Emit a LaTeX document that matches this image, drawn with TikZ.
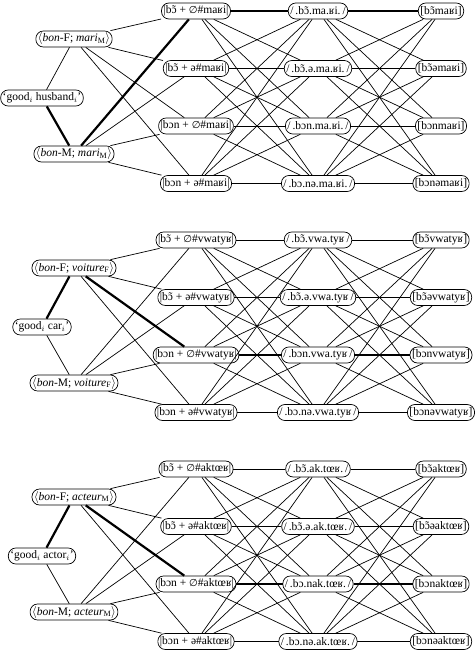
\documentclass[tikz,border=0pt]{standalone}
\usepackage{fontspec}
\setmainfont{Liberation Serif}
\newfontfamily\symfont{DejaVu Sans}
\newcommand{\onas}{\ooalign{ɔ\cr\hidewidth\char"02DC\hidewidth\cr}}
\newcommand{\nul}{{\symfont\fontsize{10}{12}\selectfont ∅}}
\begin{document}
\begin{tikzpicture}[x=1pt, y=-1pt, line width=0.7pt, form node/.style={draw,rounded corners=7.5pt,minimum height=16pt,inner sep=2pt,font=\fontsize{11.5}{13}\selectfont}, best path/.style={line width=2.2pt}]
\useasboundingbox (0,0) rectangle (474,652);
% husband
\begin{scope}[every node/.style={form node}]
\node (h0) at (42,98) {‘good$_i$ husband$_i$’};
\node (hF) at (74,39) {$\langle$\textit{bon}-F; \textit{mari}$_{\mathrm{M}}\rangle$};
\node (hM) at (74,154) {$\langle$\textit{bon}-M; \textit{mari}$_{\mathrm{M}}\rangle$};
\node (hu1) at (196,11) {|b\onas{} + \nul\#maʁi|};
\node (hu2) at (196,68.5) {|b\onas{} + ə\#maʁi|};
\node (hu3) at (196,126) {|bɔn + \nul\#maʁi|};
\node (hu4) at (196,183.5) {|bɔn + ə\#maʁi|};
\node (hs1) at (318,11) {/\,.b\onas.ma.ʁi.\,/};
\node (hs2) at (318,68.5) {/\,.b\onas.ə.ma.ʁi.\,/};
\node (hs3) at (318,126) {/\,.bɔn.ma.ʁi.\,/};
\node (hs4) at (318,183.5) {/\,.bɔ.nə.ma.ʁi.\,/};
\node (hp1) at (441,11) {[b\onas{}maʁi]};
\node (hp2) at (441,68.5) {[b\onas{}əmaʁi]};
\node (hp3) at (441,126) {[bɔnmaʁi]};
\node (hp4) at (441,183.5) {[bɔnəmaʁi]};
\end{scope}
\begin{scope}
\draw (h0) edge (hF);
\draw (hF) edge (hu1) edge (hu2) edge (hu3) edge (hu4);
\draw (hM) edge (hu2) edge (hu3) edge (hu4);
\draw (hu1) edge (hs2) edge (hs3) edge (hs4);
\draw (hu2) edge (hs1) edge (hs2) edge (hs3) edge (hs4);
\draw (hu3) edge (hs1) edge (hs2) edge (hs3) edge (hs4);
\draw (hu4) edge (hs1) edge (hs2) edge (hs3) edge (hs4);
\draw (hs1) edge (hp2) edge (hp3) edge (hp4);
\draw (hs2) edge (hp1) edge (hp2) edge (hp3) edge (hp4);
\draw (hs3) edge (hp1) edge (hp2) edge (hp3) edge (hp4);
\draw (hs4) edge (hp1) edge (hp2) edge (hp3) edge (hp4);
\draw[best path] (h0) edge (hM) (hM) edge (hu1) (hu1) edge (hs1) (hs1) edge (hp1);
\end{scope}
% car
\begin{scope}[every node/.style={form node}]
\node (c0) at (42,327) {‘good$_i$ car$_i$’};
\node (cF) at (74,268) {$\langle$\textit{bon}-F; \textit{voiture}$_{\mathrm{F}}\rangle$};
\node (cM) at (74,383) {$\langle$\textit{bon}-M; \textit{voiture}$_{\mathrm{F}}\rangle$};
\node (cu1) at (196,240) {|b\onas{} + \nul\#vwatyʁ|};
\node (cu2) at (196,297.5) {|b\onas{} + ə\#vwatyʁ|};
\node (cu3) at (196,355) {|bɔn + \nul\#vwatyʁ|};
\node (cu4) at (196,412.5) {|bɔn + ə\#vwatyʁ|};
\node (cs1) at (318,240) {/\,.b\onas.vwa.tyʁ\,/};
\node (cs2) at (318,297.5) {/\,.b\onas.ə.vwa.tyʁ\,/};
\node (cs3) at (318,355) {/\,.bɔn.vwa.tyʁ\,/};
\node (cs4) at (318,412.5) {/\,.bɔ.nə.vwa.tyʁ\,/};
\node (cp1) at (441,240) {[b\onas{}vwatyʁ]};
\node (cp2) at (441,297.5) {[b\onas{}əvwatyʁ]};
\node (cp3) at (441,355) {[bɔnvwatyʁ]};
\node (cp4) at (441,412.5) {[bɔnəvwatyʁ]};
\end{scope}
\begin{scope}
\draw (c0) edge (cM);
\draw (cF) edge (cu1) edge (cu2) edge (cu4);
\draw (cM) edge (cu1) edge (cu2) edge (cu3) edge (cu4);
\draw (cu1) edge (cs1) edge (cs2) edge (cs3) edge (cs4);
\draw (cu2) edge (cs1) edge (cs2) edge (cs3) edge (cs4);
\draw (cu3) edge (cs1) edge (cs2) edge (cs4);
\draw (cu4) edge (cs1) edge (cs2) edge (cs3) edge (cs4);
\draw (cs1) edge (cp1) edge (cp2) edge (cp3) edge (cp4);
\draw (cs2) edge (cp1) edge (cp2) edge (cp3) edge (cp4);
\draw (cs3) edge (cp1) edge (cp2) edge (cp4);
\draw (cs4) edge (cp1) edge (cp2) edge (cp3) edge (cp4);
\draw[best path] (c0) edge (cF) (cF) edge (cu3) (cu3) edge (cs3) (cs3) edge (cp3);
\end{scope}
% actor
\begin{scope}[every node/.style={form node}]
\node (a0) at (42,556) {‘good$_i$ actor$_i$’};
\node (aF) at (74,497) {$\langle$\textit{bon}-F; \textit{acteur}$_{\mathrm{M}}\rangle$};
\node (aM) at (74,612) {$\langle$\textit{bon}-M; \textit{acteur}$_{\mathrm{M}}\rangle$};
\node (au1) at (196,469) {|b\onas{} + \nul\#aktœʁ|};
\node (au2) at (196,526.5) {|b\onas{} + ə\#aktœʁ|};
\node (au3) at (196,584) {|bɔn + \nul\#aktœʁ|};
\node (au4) at (196,641.5) {|bɔn + ə\#aktœʁ|};
\node (as1) at (318,469) {/\,.b\onas.ak.tœʁ.\,/};
\node (as2) at (318,526.5) {/\,.b\onas.ə.ak.tœʁ.\,/};
\node (as3) at (318,584) {/\,.bɔ.nak.tœʁ.\,/};
\node (as4) at (318,641.5) {/\,.bɔ.nə.ak.tœʁ.\,/};
\node (ap1) at (441,469) {[b\onas{}aktœʁ]};
\node (ap2) at (441,526.5) {[b\onas{}əaktœʁ]};
\node (ap3) at (441,584) {[bɔnaktœʁ]};
\node (ap4) at (441,641.5) {[bɔnəaktœʁ]};
\end{scope}
\begin{scope}
\draw (a0) edge (aM);
\draw (aF) edge (au1) edge (au2) edge (au4);
\draw (aM) edge (au1) edge (au2) edge (au3) edge (au4);
\draw (au1) edge (as1) edge (as2) edge (as3) edge (as4);
\draw (au2) edge (as1) edge (as2) edge (as3) edge (as4);
\draw (au3) edge (as1) edge (as2) edge (as4);
\draw (au4) edge (as1) edge (as2) edge (as3) edge (as4);
\draw (as1) edge (ap1) edge (ap2) edge (ap3) edge (ap4);
\draw (as2) edge (ap1) edge (ap2) edge (ap3) edge (ap4);
\draw (as3) edge (ap1) edge (ap2) edge (ap4);
\draw (as4) edge (ap1) edge (ap2) edge (ap3) edge (ap4);
\draw[best path] (a0) edge (aF) (aF) edge (au3) (au3) edge (as3) (as3) edge (ap3);
\end{scope}
\end{tikzpicture}
\end{document}
